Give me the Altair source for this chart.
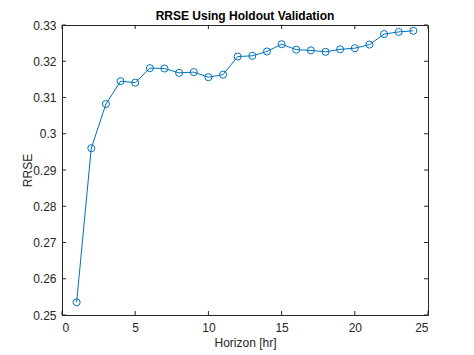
import altair as alt
import pandas as pd

horizon = list(range(1, 25))
rrse = [0.2535, 0.2960, 0.3082, 0.3145, 0.3141, 0.3181, 0.3180, 0.3168,
        0.3170, 0.3156, 0.3163, 0.3213, 0.3215, 0.3227, 0.3247, 0.3232,
        0.3230, 0.3226, 0.3233, 0.3236, 0.3246, 0.3275, 0.3281, 0.3284]
x_ticks = [0, 5, 10, 15, 20, 25]
y_ticks = [0.25, 0.26, 0.27, 0.28, 0.29, 0.30, 0.31, 0.32, 0.33]

W, H = 366, 290
AX = "#262626"
BLUE = "#0072BD"
FONT = "Liberation Sans"
FS = 12

df = pd.DataFrame({"h": horizon, "r": rrse})
dx = pd.DataFrame({"h": x_ticks})
dy = pd.DataFrame({"r": y_ticks})

xs = alt.Scale(domain=[0, 25], nice=False, zero=False)
ys = alt.Scale(domain=[0.25, 0.33], nice=False, zero=False)

x_axis = alt.Axis(values=x_ticks, format="d", labelPadding=7.5,
                  titleBaseline="alphabetic", titleY=31.5)
y_axis = alt.Axis(values=y_ticks, format=".2~f", labelPadding=6,
                  titleBaseline="alphabetic", titleX=-30.5, titleY=H / 2,
                  titleAngle=-90)
x_enc = alt.X("h:Q", scale=xs, title="Horizon [hr]", axis=x_axis)
y_enc = alt.Y("r:Q", scale=ys, title="RRSE", axis=y_axis)

line = alt.Chart(df).mark_line(color=BLUE, strokeWidth=1).encode(x=x_enc, y=y_enc)
pts = alt.Chart(df).mark_point(shape="circle", filled=False, color=BLUE,
                               size=50, strokeWidth=1, opacity=1).encode(x=x_enc, y=y_enc)

tick_b = alt.Chart(dx).mark_rule(color=AX, strokeWidth=1).encode(
    x=x_enc, y=alt.value(H), y2=alt.value(H - 4))
tick_t = alt.Chart(dx).mark_rule(color=AX, strokeWidth=1).encode(
    x=x_enc, y=alt.value(0), y2=alt.value(4))
tick_l = alt.Chart(dy).mark_rule(color=AX, strokeWidth=1).encode(
    y=y_enc, x=alt.value(0), x2=alt.value(4))
tick_r = alt.Chart(dy).mark_rule(color=AX, strokeWidth=1).encode(
    y=y_enc, x=alt.value(W), x2=alt.value(W - 4))

chart = alt.layer(line, pts, tick_b, tick_t, tick_l, tick_r).properties(
    width=W, height=H,
    title=alt.TitleParams("RRSE Using Holdout Validation", font=FONT,
                          fontSize=FS, fontWeight="bold", color="black",
                          offset=0, dy=13, baseline="alphabetic",
                          anchor="middle"),
    autosize=alt.AutoSizeParams(type="none"),
    padding={"left": 54, "top": 17, "right": 30, "bottom": 40},
    background="white",
).configure_view(stroke=AX, strokeWidth=1).configure_axis(
    grid=False, ticks=False, domainColor=AX, domainWidth=1,
    labelFont=FONT, labelFontSize=FS, labelColor=AX,
    titleFont=FONT, titleFontSize=FS, titleColor=AX, titleFontWeight="normal",
)

chart.save("out.html", embed_options={"renderer": "svg", "actions": False})
